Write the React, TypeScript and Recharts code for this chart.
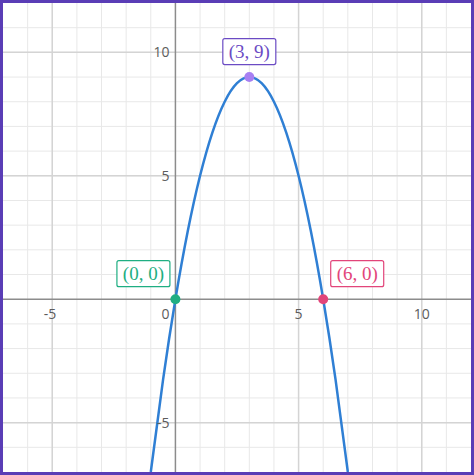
import { ComposedChart, Line, XAxis, YAxis, ReferenceLine, ReferenceDot } from 'recharts'

// parabola y = x(6 - x)
const curveX = [-1, -0.5, 0, 0.5, 1, 1.5, 2, 2.5, 3, 3.5, 4, 4.5, 5, 5.5, 6, 6.5, 7]
const curveY = [-7, -3.25, 0, 2.75, 5, 6.75, 8, 8.75, 9, 8.75, 8, 6.75, 5, 2.75, 0, -3.25, -7]

const gridTicks = [-6, -5, -4, -3, -2, -1, 1, 2, 3, 4, 5, 6, 7, 8, 9, 10, 11]
const majorTicks = [-5, 5, 10]
const xLabels = [-5, 0, 5, 10]
const yLabels = [-5, 5, 10]

const points = [
  { x: 0, y: 0, text: '(0, 0)', color: '#1fae82', dx: -32 },
  { x: 3, y: 9, text: '(3, 9)', color: '#6b4bc4', dot: '#a77ff2', dx: 0 },
  { x: 6, y: 0, text: '(6, 0)', color: '#e2457a', dx: 34 },
]

const data = curveX.map((x, i) => ({ x, y: curveY[i] }))

const tickFont = { fontFamily: '"Open Sans", sans-serif', fontSize: 14, fill: '#5c5c5c' }

function XTick(props: any, v: number) {
  const { cx, cy } = props
  if (v === 0) {
    return <text x={cx - 6} y={cy + 20} textAnchor="end" {...tickFont}>0</text>
  }
  if (v < 0) {
    return <text x={cx + 4} y={cy + 20} textAnchor="end" {...tickFont}>{v}</text>
  }
  return <text x={cx} y={cy + 20} textAnchor="middle" {...tickFont}>{v}</text>
}

function YTick(props: any, v: number) {
  const { cx, cy } = props
  return <text x={cx - 6} y={cy + 5} textAnchor="end" {...tickFont}>{v}</text>
}

function PointMark(props: any, p: (typeof points)[number]) {
  const { cx, cy } = props
  const bx = cx + p.dx
  const by = cy - 25.5
  return (
    <g>
      <rect x={bx - 26.5} y={by - 13} width={53} height={26} rx={2} fill="#fff" stroke={p.color} strokeWidth={1.2} />
      <text
        x={bx}
        y={by + 6.5}
        textAnchor="middle"
        fontFamily='"Liberation Serif", serif'
        fontSize={19}
        fill={p.color}
      >
        {p.text}
      </text>
      <circle cx={cx} cy={cy} r={5} fill={p.dot ?? p.color} />
    </g>
  )
}

export default function App() {
  return (
    <div
      style={{
        position: 'absolute',
        left: 0,
        top: 0,
        width: 474,
        height: 475,
        boxSizing: 'border-box',
        border: '3px solid #5a3db6',
        background: '#fff',
      }}
    >
      <ComposedChart width={468} height={469} data={data} margin={{ top: 0, right: 0, bottom: 0, left: 0 }}>
        <XAxis dataKey="x" type="number" domain={[-7, 12]} allowDataOverflow hide />
        <YAxis type="number" domain={[-7, 12]} allowDataOverflow hide />
        {gridTicks.map((t) => (
          <ReferenceLine key={'gx' + t} x={t} stroke="#e8e8e8" strokeWidth={1} />
        ))}
        {gridTicks.map((t) => (
          <ReferenceLine key={'gy' + t} y={t} stroke="#e8e8e8" strokeWidth={1} />
        ))}
        {majorTicks.map((t) => (
          <ReferenceLine key={'vx' + t} x={t} stroke="#d4d4d4" strokeWidth={1.5} />
        ))}
        {majorTicks.map((t) => (
          <ReferenceLine key={'hy' + t} y={t} stroke="#d4d4d4" strokeWidth={1.5} />
        ))}
        <ReferenceLine x={0} stroke="#8c8c8c" strokeWidth={1.5} />
        <ReferenceLine y={0} stroke="#8c8c8c" strokeWidth={1.5} />
        {xLabels.map((v) => (
          <ReferenceDot key={'xl' + v} x={v} y={0} r={0} shape={(p: any) => XTick(p, v)} />
        ))}
        {yLabels.map((v) => (
          <ReferenceDot key={'yl' + v} x={0} y={v} r={0} shape={(p: any) => YTick(p, v)} />
        ))}
        <Line
          dataKey="y"
          type="natural"
          stroke="#2f7fd4"
          strokeWidth={2.5}
          dot={false}
          activeDot={false}
          isAnimationActive={false}
        />
        {points.map((p) => (
          <ReferenceDot key={p.text} x={p.x} y={p.y} r={5} shape={(props: any) => PointMark(props, p)} />
        ))}
      </ComposedChart>
    </div>
  )
}
